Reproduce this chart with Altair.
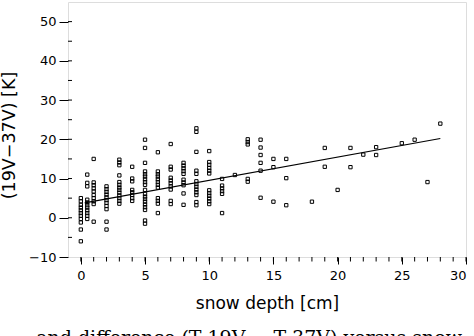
import altair as alt
import pandas as pd

# snow depth columns [cm] and the (19V-37V) values [K] read at each
depth_cols = [0, 0.5, 1, 2, 3, 4, 5, 6, 7, 8, 9, 10, 11, 12, 13, 14, 15, 16, 18, 19, 20, 21, 22, 23, 25, 26, 27, 28]
diff_cols = [
    [5, 4.2, 3.3, 2.6, 1.9, 1.2, 0.5, -0.3, -1.2, -3, -6],
    [11, 8.9, 8, 4.6, 3.9, 3.2, 2.6, 1.9, 1.2, 0.5, -0.3],
    [15, 9, 8.3, 7.5, 6.7, 5.8, 5, 4.2, 3.5, -1],
    [8, 7.3, 6.6, 5.9, 5.2, 4.5, 3.8, 3, 2.2, -1, -3],
    [14.8, 14.1, 13.4, 10.8, 9.1, 8.4, 7.7, 7.1, 6.4, 5.7, 5, 4.3, 3.6],
    [13, 10, 9.3, 7.1, 6.5, 5.8, 5, 4.3],
    [19.9, 17.8, 14, 11.8, 11.1, 10.5, 9.8, 9.1, 8.4, 7.1, 6.1, 5.4, 4.8, 4.1, 3.4, 2.7, 2, -0.7, -1.5],
    [16.7, 11.8, 11.1, 10.5, 9.8, 9.1, 8.4, 7.7, 5, 4.3, 3.6, 1.2],
    [18.8, 13, 12.3, 10.2, 9.5, 8.8, 8, 7.2, 4.3, 3.5],
    [14, 13.3, 12.6, 11.9, 11.2, 9.7, 9, 8.3, 6.2, 3.3],
    [22.8, 21.9, 16.8, 12, 11.2, 9.3, 8.6, 7.9, 7.2, 6.5, 5.8, 4, 3.2],
    [17, 14.2, 13.5, 12.7, 12, 11.3, 7, 6.3, 5.6, 4.9, 4.2, 3.5],
    [9.9, 8.2, 7.5, 6.8, 6.1, 1.2],
    [10.9],
    [20, 19.3, 18.7, 9.9, 9.2],
    [19.9, 17.9, 16, 14, 12, 5.1],
    [15, 12.9, 4.1],
    [15, 10.1, 3.2],
    [4.1],
    [17.8, 13],
    [7.1],
    [17.8, 12.9],
    [16.1],
    [18, 16],
    [19],
    [19.9],
    [9.1],
    [24],
]

# regression line end points
reg_x = [0.3, 28]
reg_y = [3.8, 20.2]

x_major = [0, 5, 10, 15, 20, 25, 30]
x_minor = list(range(0, 31))
y_major = [-10, 0, 10, 20, 30, 40, 50]
y_minor = [-5, 0, 5, 10, 15, 20, 25, 30, 35, 40, 45, 50]

caption = ["and difference (T 19V \u2212 T 37V) versus snow"]

rows = []
for d, vals in zip(depth_cols, diff_cols):
    for v in vals:
        rows.append({"depth": d, "diff": v})
pts = pd.DataFrame(rows)
line_df = pd.DataFrame({"depth": reg_x, "diff": reg_y})

FONT = "DejaVu Sans"
xscale = alt.Scale(domain=[-1, 30], nice=False, zero=False)
yscale = alt.Scale(domain=[-10, 55], nice=False, zero=False)

x_axis = alt.Axis(values=x_major, tickSize=7, tickColor="black", domain=False, grid=False,
                  labelFont=FONT, labelFontSize=13, labelColor="black", labelPadding=5,
                  title="snow depth [cm]", titleFont=FONT, titleFontSize=17,
                  titleFontWeight="normal", titleColor="black", titlePadding=13)
y_axis = alt.Axis(values=y_major, tickSize=9, tickColor="black", domain=False, grid=False,
                  labelFont=FONT, labelFontSize=13, labelColor="black", labelPadding=3,
                  title="(19V\u221237V) [K]", titleFont=FONT, titleFontSize=17.5,
                  titleFontWeight="normal", titleColor="black", titleAngle=-90,
                  titleX=-59, titleY=133, titleAlign="center", titleBaseline="middle")

points = alt.Chart(pts).mark_point(shape="square", filled=False, size=11, strokeWidth=1,
                                   color="black", opacity=1).encode(
    x=alt.X("depth:Q", scale=xscale, axis=x_axis),
    y=alt.Y("diff:Q", scale=yscale, axis=y_axis),
)

reg = alt.Chart(line_df).mark_line(color="black", strokeWidth=1.2).encode(
    x=alt.X("depth:Q", scale=xscale),
    y=alt.Y("diff:Q", scale=yscale),
)

minor_x = alt.Chart(pd.DataFrame({"depth": x_minor})).mark_rule(color="black", strokeWidth=1).encode(
    x=alt.X("depth:Q", scale=xscale),
    y=alt.value(255), y2=alt.value(259.5),
)
minor_y = alt.Chart(pd.DataFrame({"diff": y_minor})).mark_rule(color="black", strokeWidth=1).encode(
    y=alt.Y("diff:Q", scale=yscale),
    x=alt.value(0), x2=alt.value(4),
)

cap = alt.Chart(pd.DataFrame({"t": caption})).mark_text(
    font="DejaVu Serif", fontSize=19, align="right", baseline="alphabetic", color="black"
).encode(text="t:N", x=alt.value(394), y=alt.value(342))

chart = alt.layer(points, reg, minor_x, minor_y, cap).properties(
    width=398, height=255,
    autosize=alt.AutoSizeParams(type="none"),
    padding={"left": 68, "top": 2, "right": 8, "bottom": 79},
).configure_view(stroke="black", strokeWidth=1.3).configure(background="white")

chart.save("out.html", embed_options={"renderer": "svg", "actions": False})
